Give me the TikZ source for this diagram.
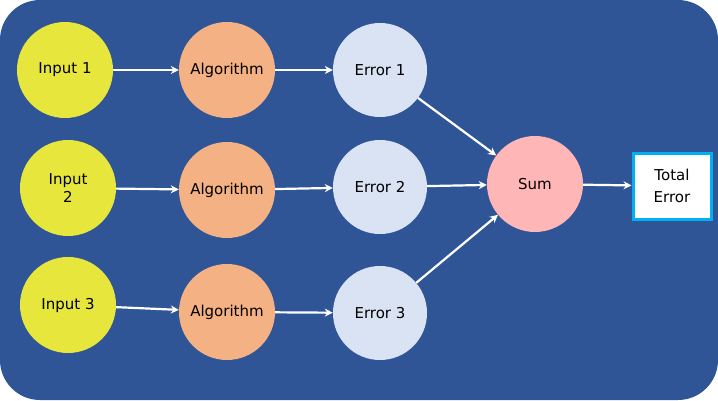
\documentclass[tikz,border=0pt]{standalone}
\usepackage{fontspec}
\setmainfont{DejaVu Sans}
\usetikzlibrary{arrows.meta}
\definecolor{bgblue}{HTML}{2F5597}
\definecolor{inyellow}{HTML}{E6E63C}
\definecolor{algorange}{HTML}{F4B183}
\definecolor{errlight}{HTML}{DAE3F3}
\definecolor{sumpink}{HTML}{FFB6B6}
\definecolor{boxcyan}{HTML}{00B0F0}
\tikzset{
  ball/.style={circle,minimum size=96pt,inner sep=0pt,font=\fontsize{15}{18}\selectfont,align=center},
  inball/.style={ball,fill=inyellow},
  algball/.style={ball,fill=algorange},
  errball/.style={ball,minimum size=94pt,fill=errlight},
  link/.style={white,line width=2.2pt,-{Stealth[length=8pt,width=8pt]}}
}
\begin{document}
\begin{tikzpicture}[x=1pt,y=-1pt]
  \useasboundingbox (0,0) rectangle (718,400);
  \fill[bgblue,rounded corners=40pt] (0,0) rectangle (718,400);
  % inputs
  \node[inball] (in1) at (65,70) {Input 1};
  \node[inball] (in2) at (68,188) {Input\\2};
  \node[inball] (in3) at (68,305) {Input 3};
  % algorithms
  \node[algball] (alg1) at (227,70) {Algorithm};
  \node[algball] (alg2) at (227,190) {Algorithm};
  \node[algball] (alg3) at (227,312) {Algorithm};
  % errors
  \node[errball] (err1) at (380,70) {Error 1};
  \node[errball] (err2) at (380,187) {Error 2};
  \node[errball] (err3) at (380,313) {Error 3};
  \node[ball,fill=sumpink] (sum) at (535,184) {Sum};
  \node[draw=boxcyan,line width=3pt,fill=white,minimum width=78pt,minimum height=66pt,
        align=center,font=\fontsize{15}{22}\selectfont] (total) at (672,186) {Total\\Error};
  % connectors
  \foreach \i in {1,2,3}{
    \draw[link] (in\i) -- (alg\i);
    \draw[link] (alg\i) -- (err\i);
    \draw[link] (err\i) -- (sum);
  }
  \draw[link] (sum) -- (total);
\end{tikzpicture}
\end{document}
